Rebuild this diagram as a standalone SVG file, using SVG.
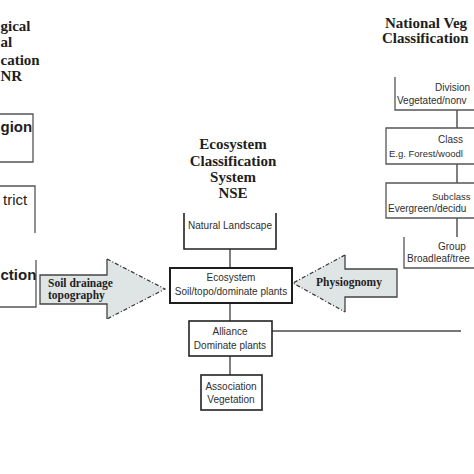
<svg xmlns="http://www.w3.org/2000/svg" width="474" height="474" viewBox="0 0 474 474">
<style>
.title{font-family:"Liberation Serif",serif;font-weight:bold;font-size:15px;fill:#1e1e1e}
.big{font-family:"Liberation Sans",sans-serif;font-size:15px;fill:#1e1e1e}
.lbl{font-family:"Liberation Sans",sans-serif;font-size:10px;fill:#2e2e2e}
.sm{font-size:9.5px}
.arr{font-family:"Liberation Serif",serif;font-weight:bold;font-size:11.5px;fill:#1e1e1e}
.edge{fill:none;stroke:#555;stroke-width:1.3}
.cbox{fill:#fff;stroke:#222;stroke-width:1.6}
.conn{fill:none;stroke:#555;stroke-width:1.5}
.afill{fill:#dfe4e4;stroke:none}
.asolid{fill:none;stroke:#444;stroke-width:1.3}
.adash{fill:none;stroke:#333;stroke-width:1.2;stroke-dasharray:4 2 1 2}
</style>
<rect width="474" height="474" fill="#fff"/>

<g id="left-title">
<text class="title" x="0.5" y="31">gical</text>
<text class="title" x="0.5" y="47">al</text>
<text class="title" x="0.5" y="65">cation</text>
<text class="title" x="0.5" y="81">NR</text>
</g>

<g id="node-region">
<path class="edge" d="M0,114 H33 V162 H0"/>
<text class="big" x="0.5" y="132" font-weight="bold" font-size="13.5">gion</text>
</g>
<g id="node-district">
<path class="edge" d="M0,186 H35 V233"/>
<text class="big" x="3" y="205">trict</text>
</g>
<g id="node-section">
<path class="edge" d="M36,260 V307 H0"/>
<text class="big" x="0.5" y="280" font-weight="bold" font-size="13">ction</text>
</g>

<g id="center-title">
<text class="title" x="233" y="149" text-anchor="middle">Ecosystem</text>
<text class="title" x="233" y="166" text-anchor="middle">Classification</text>
<text class="title" x="233" y="182" text-anchor="middle">System</text>
<text class="title" x="233" y="198" text-anchor="middle">NSE</text>
</g>

<g id="right-title">
<text class="title" x="385" y="28">National Veg</text>
<text class="title" x="382" y="43">Classification</text>
</g>

<g id="connectors">
<line class="conn" x1="230" y1="249" x2="230" y2="268"/>
<line class="conn" x1="230" y1="303" x2="230" y2="321"/>
<line class="conn" x1="230" y1="356" x2="230" y2="375"/>
<line x1="272" y1="331" x2="461" y2="331" stroke="#777" stroke-width="2"/>
<line class="conn" x1="457" y1="110" x2="457" y2="128"/>
<line class="conn" x1="457" y1="164" x2="457" y2="183"/>
<line class="conn" x1="457" y1="218" x2="457" y2="237"/>
</g>

<g id="node-natural-landscape">
<path class="cbox" d="M184,213 V249 H276 V213"/>
<text class="lbl" x="230" y="229" text-anchor="middle">Natural Landscape</text>
</g>
<g id="node-ecosystem">
<rect x="170" y="268" width="122" height="35" fill="#fff" stroke="#1e1e1e" stroke-width="2"/>
<text class="lbl" x="231" y="281" text-anchor="middle">Ecosystem</text>
<text class="lbl" x="231" y="295" text-anchor="middle">Soil/topo/dominate plants</text>
</g>
<g id="node-alliance">
<rect class="cbox" x="189" y="321" width="83" height="35"/>
<text class="lbl" x="230" y="335" text-anchor="middle">Alliance</text>
<text class="lbl" x="230" y="349" text-anchor="middle">Dominate plants</text>
</g>
<g id="node-association">
<rect class="cbox" x="201" y="375" width="61" height="35" stroke-width="1.3"/>
<text class="lbl" x="231" y="390" text-anchor="middle">Association</text>
<text class="lbl" x="231" y="403" text-anchor="middle">Vegetation</text>
</g>

<g id="arrow-soil">
<polygon class="afill" points="40,275 107,275 107,259 165,289 107,319 107,304 40,304"/>
<path class="asolid" d="M107,259 V275 H40 V304 H107 V319"/>
<path class="adash" d="M107,259 L165,289 L107,319"/>
<text class="arr" x="48" y="287">Soil drainage</text>
<text class="arr" x="48" y="299">topography</text>
</g>

<g id="arrow-physiognomy">
<polygon class="afill" points="397,269 345,269 345,255 293,283 345,312 345,297 397,297"/>
<path class="asolid" d="M345,255 V269 H397 V297 H345 V312"/>
<path class="adash" d="M345,255 L293,283 L345,312"/>
<text class="arr" x="349" y="286" text-anchor="middle">Physiognomy</text>
</g>

<g id="node-division">
<path class="edge" d="M395,77 V110 H474"/>
<text class="lbl" x="435" y="91">Division</text>
<text class="lbl" x="397" y="104">Vegetated/nonv</text>
</g>
<g id="node-class">
<path class="edge" d="M474,128 H386 V164 H474"/>
<text class="lbl" x="438" y="143">Class</text>
<text class="lbl sm" x="389" y="157">E.g. Forest/woodl</text>
</g>
<g id="node-subclass">
<path class="edge" d="M474,183 H386 V218 H474"/>
<text class="lbl sm" x="432" y="200">Subclass</text>
<text class="lbl" x="388" y="212">Evergreen/decidu</text>
</g>
<g id="node-group">
<path class="edge" d="M404,237 V268 H474" stroke-width="1.8"/>
<text class="lbl" x="438" y="250">Group</text>
<text class="lbl" x="407" y="262">Broadleaf/tree</text>
</g>
</svg>
